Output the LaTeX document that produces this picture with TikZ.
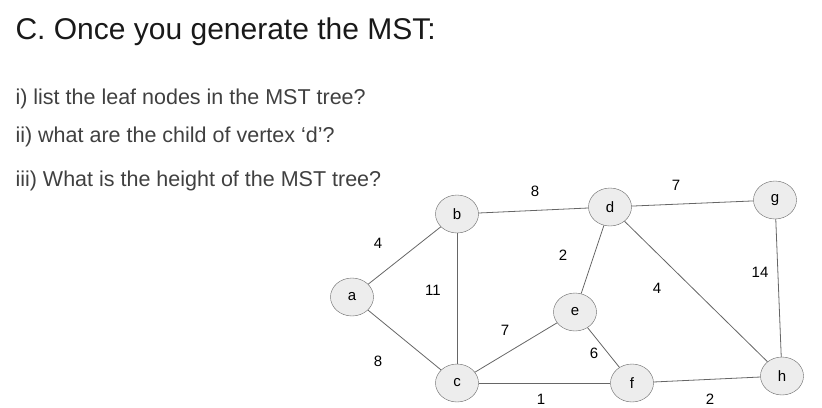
\documentclass[tikz,border=0pt]{standalone}
\usepackage{fontspec}
\setmainfont{Liberation Sans}
\usetikzlibrary{shapes.geometric}
\begin{document}
\begin{tikzpicture}[x=1pt,y=-1pt,
  vert/.style={ellipse,draw=black!60,fill=black!7,minimum width=43pt,minimum height=38pt,inner sep=0pt,font=\fontsize{15}{17}\selectfont},
  edge/.style={draw=black!60,line width=0.8pt},
  wt/.style={font=\fontsize{15}{17}\selectfont},
  q/.style={anchor=west,font=\fontsize{21.5}{24}\selectfont,text=black!75}]
\useasboundingbox (0,0) rectangle (822,407);
\node[anchor=west,font=\fontsize{30}{33}\selectfont,text=black!90] (t) at (12,32) {C. Once you generate the MST:};
\node[q] (q1) at (12,99) {i) list the leaf nodes in the MST tree?};
\node[q] (q2) at (12,137) {ii) what are the child of vertex ‘d’?};
\node[q] (q3) at (12,181) {iii) What is the height of the MST tree?};
\node[vert] (a) at (352,297) {a};
\node[vert] (b) at (457,214) {b};
\node[vert] (c) at (457,383) {c};
\node[vert] (d) at (610,207) {d};
\node[vert] (e) at (575,312) {e};
\node[vert] (f) at (632,383) {f};
\node[vert] (g) at (775,200) {g};
\node[vert] (h) at (782,376) {h};
\draw[edge] (a)--(b); \draw[edge] (a)--(c); \draw[edge] (b)--(c);
\draw[edge] (b)--(d); \draw[edge] (d)--(e); \draw[edge] (d)--(h);
\draw[edge] (d)--(g); \draw[edge] (g)--(h); \draw[edge] (c)--(e);
\draw[edge] (e)--(f); \draw[edge] (c)--(f); \draw[edge] (f)--(h);
\node[wt] (w1) at (378,243) {4};
\node[wt] (w2) at (535,191) {8};
\node[wt] (w3) at (433,290) {11};
\node[wt] (w4) at (563,255) {2};
\node[wt] (w5) at (505,330) {7};
\node[wt] (w6) at (657,288) {4};
\node[wt] (w7) at (676,185) {7};
\node[wt] (w8) at (760,272) {14};
\node[wt] (w9) at (594,353) {6};
\node[wt] (w10) at (378,361) {8};
\node[wt] (w11) at (541,399) {1};
\node[wt] (w12) at (710,399) {2};
\end{tikzpicture}
\end{document}
